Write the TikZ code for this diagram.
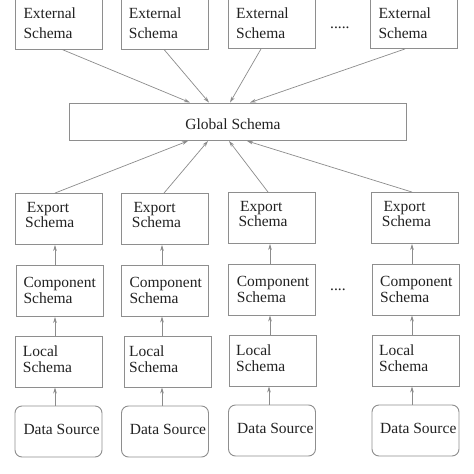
\documentclass[tikz,border=0pt]{standalone}
\usepackage{fontspec}
\setmainfont{Liberation Serif}
\usetikzlibrary{arrows.meta}
\definecolor{linegray}{HTML}{8C8C8C}
\definecolor{boxgray}{HTML}{8E8E8E}
\definecolor{txtcol}{HTML}{222222}
\tikzset{
  box/.style={draw=boxgray, line width=0.9pt, inner sep=0pt, minimum width=87pt, minimum height=51pt},
  rbox/.style={box, rounded corners=7pt},
  gbox/.style={draw=boxgray, line width=0.9pt, inner sep=0pt, minimum width=337pt, minimum height=37.5pt},
  txt/.style={inner sep=0pt, anchor=base west, text=txtcol, font=\fontsize{15.5}{18}\selectfont},
  arr/.style={draw=linegray, line width=0.7pt, -{Stealth[length=6pt,width=3.6pt]}},
}
\begin{document}
\begin{tikzpicture}[x=1pt,y=-1pt]
\useasboundingbox (0,0) rectangle (474,474);
\fill[white] (0,0) rectangle (474,474);
% External schemas
\node[box, minimum height=53pt] (e1) at (58.5,22.5) {};
\node[box, minimum height=53pt] (e2) at (164.5,22.5) {};
\node[box, minimum height=53pt] (e3) at (271.5,22) {};
\node[box, minimum height=53pt] (e4) at (413.5,22) {};
\node[txt] (e1a) at (23.3,18) {External};
\node[txt] (e1b) at (23.3,38) {Schema};
\node[txt] (e2a) at (128.7,18) {External};
\node[txt] (e2b) at (128.7,38) {Schema};
\node[txt] (e3a) at (236,18) {External};
\node[txt] (e3b) at (236,38) {Schema};
\node[txt] (e4a) at (378.3,18) {External};
\node[txt] (e4b) at (378.3,38) {Schema};
\node[txt] (d1) at (330,28) {.....};
% Global
\node[gbox] (g) at (237.5,121.75) {};
\node[txt, anchor=base] (gt) at (233,129) {Global Schema};
% Export
\node[box] (x1) at (58.5,219) {};
\node[box] (x2) at (165,219) {};
\node[box] (x3) at (272,218) {};
\node[box] (x4) at (415,218) {};
\node[txt] (x1a) at (26.7,212.3) {Export};
\node[txt] (x1b) at (25,227.7) {Schema};
\node[txt] (x2a) at (133.3,212.3) {Export};
\node[txt] (x2b) at (131.7,227.7) {Schema};
\node[txt] (x3a) at (240,211.3) {Export};
\node[txt] (x3b) at (238.3,226.7) {Schema};
\node[txt] (x4a) at (383.3,211.3) {Export};
\node[txt] (x4b) at (381.7,226.7) {Schema};
% Component
\node[box] (c1) at (60,291) {};
\node[box] (c2) at (165,290.5) {};
\node[box] (c3) at (272,289.5) {};
\node[box] (c4) at (415.5,289.5) {};
\node[txt] (c1a) at (23.3,287) {Component};
\node[txt] (c1b) at (23.3,303) {Schema};
\node[txt] (c2a) at (129.3,287) {Component};
\node[txt] (c2b) at (129.3,303) {Schema};
\node[txt] (c3a) at (236.7,286) {Component};
\node[txt] (c3b) at (236.7,302) {Schema};
\node[txt] (c4a) at (380,286) {Component};
\node[txt] (c4b) at (380,302) {Schema};
\node[txt] (d2) at (330,290) {....};
% Local
\node[box] (l1) at (59,361.5) {};
\node[box] (l2) at (167.5,361.5) {};
\node[box] (l3) at (272.5,360.5) {};
\node[box] (l4) at (415.5,360.5) {};
\node[txt] (l1a) at (22.7,356.7) {Local};
\node[txt] (l1b) at (22.7,372.3) {Schema};
\node[txt] (l2a) at (129,356.7) {Local};
\node[txt] (l2b) at (129,372.3) {Schema};
\node[txt] (l3a) at (236,355.7) {Local};
\node[txt] (l3b) at (236,371.3) {Schema};
\node[txt] (l4a) at (379,355.7) {Local};
\node[txt] (l4b) at (379,371.3) {Schema};
% Data sources
\node[rbox] (s1) at (58.5,431.5) {};
\node[rbox] (s2) at (165,431.5) {};
\node[rbox] (s3) at (272,430.5) {};
\node[rbox] (s4) at (415.5,430.5) {};
\node[txt] (s1a) at (23.3,434) {Data Source};
\node[txt] (s2a) at (129.7,434) {Data Source};
\node[txt] (s3a) at (237,433) {Data Source};
\node[txt] (s4a) at (380,433) {Data Source};
% External -> Global
\draw[arr] ([xshift=3.5pt]e1.south) -- ([xshift=-47.5pt]g.north);
\draw[arr] ([xshift=-0.5pt]e2.south) -- ([xshift=-28.5pt]g.north);
\draw[arr] ([xshift=-10.5pt]e3.south) -- ([xshift=-7.5pt]g.north);
\draw[arr] ([xshift=-8.5pt]e4.south) -- ([xshift=12.5pt]g.north);
% Export -> Global
\draw[arr] ([xshift=-3.5pt]x1.north) -- ([xshift=-49.5pt]g.south);
\draw[arr] ([xshift=-1pt]x2.north) -- ([xshift=-29.5pt]g.south);
\draw[arr] ([xshift=-4pt]x3.north) -- ([xshift=-8.5pt]g.south);
\draw[arr] ([xshift=-3pt]x4.north) -- ([xshift=9.5pt]g.south);
% Component -> Export
\draw[arr] ([xshift=-5pt]c1.north) -- ([xshift=-3.5pt]x1.south);
\draw[arr] ([xshift=-3pt]c2.north) -- ([xshift=-3pt]x2.south);
\draw[arr] ([xshift=-2pt]c3.north) -- ([xshift=-2pt]x3.south);
\draw[arr] ([xshift=-3.5pt]c4.north) -- ([xshift=-3pt]x4.south);
% Local -> Component
\draw[arr] ([xshift=-4pt]l1.north) -- ([xshift=-5pt]c1.south);
\draw[arr] ([xshift=-5.5pt]l2.north) -- ([xshift=-3pt]c2.south);
\draw[arr] ([xshift=-2.5pt]l3.north) -- ([xshift=-2pt]c3.south);
\draw[arr] ([xshift=-3.5pt]l4.north) -- ([xshift=-3.5pt]c4.south);
% Data -> Local
\draw[arr] ([xshift=-3.5pt]s1.north) -- ([xshift=-4pt]l1.south);
\draw[arr] ([xshift=-3pt]s2.north) -- ([xshift=-5.5pt]l2.south);
\draw[arr] ([xshift=-3pt]s3.north) -- ([xshift=-3.5pt]l3.south);
\draw[arr] ([xshift=-3.5pt]s4.north) -- ([xshift=-3.5pt]l4.south);
\end{tikzpicture}
\end{document}
